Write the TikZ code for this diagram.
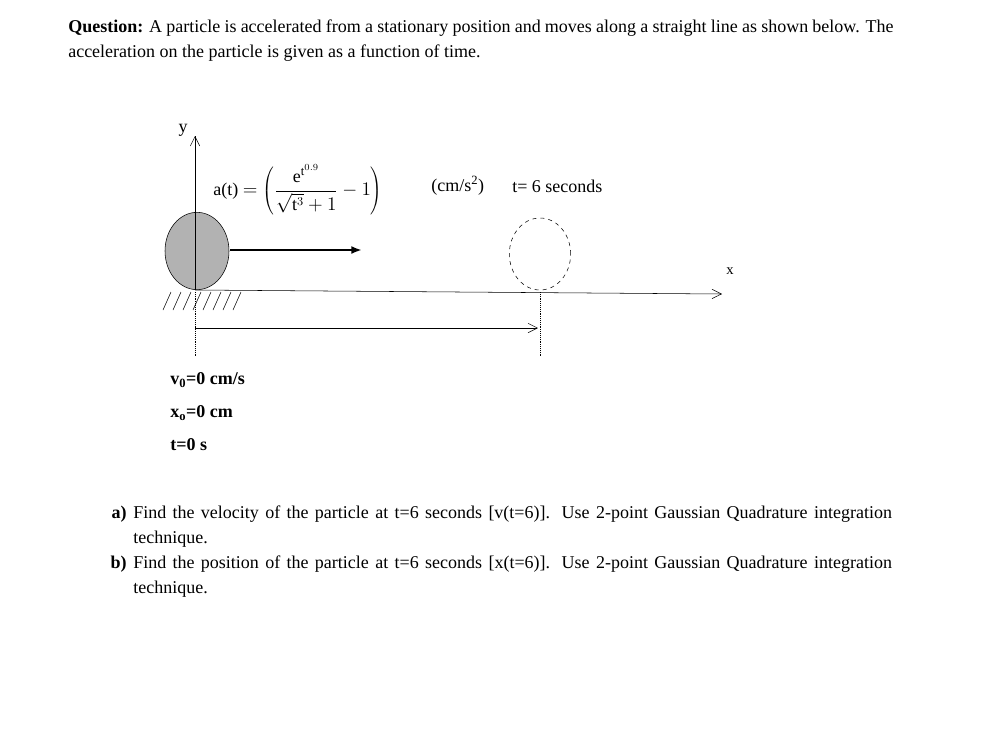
\documentclass[tikz,border=0pt]{standalone}
\usepackage{fontspec}
\setmainfont{Liberation Serif}
\usetikzlibrary{arrows.meta,patterns,shapes.geometric}
\begin{document}
\begin{tikzpicture}[x=0.75pt,y=-0.75pt,
  txt/.style={inner sep=0pt,font=\fontsize{13.5}{18.5}\selectfont},
  arr/.style={-{Straight Barb[length=7pt,width=7pt]},thin}]
\useasboundingbox (0,0) rectangle (984,747);
\fill[white] (0,0) rectangle (984,747);
\node[txt,anchor=north west,text width=619pt,align=justify] (q) at (68,20)
 {\textbf{Question:} A particle is accelerated from a stationary position and moves along a straight line as shown below. The acceleration on the particle is given as a function of time.};
% axes
\coordinate (o) at (195,290);
\coordinate (ytop) at (195,136);
\coordinate (xend) at (722,294);
\draw[arr] (o) -- (ytop);
\draw[arr] (o) -- (xend);
\node[txt,anchor=center] (ylab) at (183,130) {y};
\node[txt,anchor=center,font=\fontsize{11}{13}\selectfont] (xlab) at (730,271) {x};
% hatching
\foreach \i in {0,...,7}{\draw (163+\i*10,310) -- (171+\i*10,292);}
% particle
\node[draw,ellipse,fill=gray!60,minimum width=48pt,minimum height=58pt,inner sep=0pt] (p) at (197,251) {};
\draw[thin] (ytop) -- (o);
\coordinate (a1) at (230,250);
\coordinate (a2) at (362,250);
\draw[-{Latex[length=8pt,width=6pt]},line width=1.6pt] (a1) -- (a2);
% formula
\node[txt,anchor=center] (f) at (298,190)
 {a(t) $=\left(\displaystyle\frac{\mathrm{e}^{\mathrm{t}^{0.9}}}{\sqrt{\mathrm{t}^3}+1}-1\right)$};
\node[txt,anchor=west] (u) at (431,186) {(cm/s\textsuperscript{2})};
\node[txt,anchor=west] (t6) at (512,186) {t= 6 seconds};
% final position
\node[draw,dashed,ellipse,minimum width=46pt,minimum height=54pt,inner sep=0pt] (pf) at (540,254) {};
\coordinate (d1) at (540,292); \coordinate (d2) at (540,356);
\coordinate (d3) at (195,292); \coordinate (d4) at (195,356);
\draw[densely dotted] (d1) -- (d2);
\draw[densely dotted] (d3) -- (d4);
\coordinate (b1) at (195,328); \coordinate (b2) at (538,328);
\draw[arr] (b1) -- (b2);
% initial conditions
\node[txt,anchor=north west,font=\bfseries\fontsize{13.5}{25}\selectfont,align=left] (ic) at (170,372)
 {v\textsubscript{0}=0 cm/s\\x\textsubscript{o}=0 cm\\t=0 s};
% questions
\node[txt,anchor=north west,text width=569pt,align=justify] (qa) at (133,506)
 {Find the velocity of the particle at t=6 seconds [v(t=6)]. Use 2-point Gaussian Quadrature integration technique.};
\node[txt,anchor=north east] (la) at (127,506) {\textbf{a)}};
\node[txt,anchor=north west,text width=569pt,align=justify] (qb) at (133,556)
 {Find the position of the particle at t=6 seconds [x(t=6)]. Use 2-point Gaussian Quadrature integration technique.};
\node[txt,anchor=north east] (lb) at (127,556) {\textbf{b)}};
\end{tikzpicture}
\end{document}
